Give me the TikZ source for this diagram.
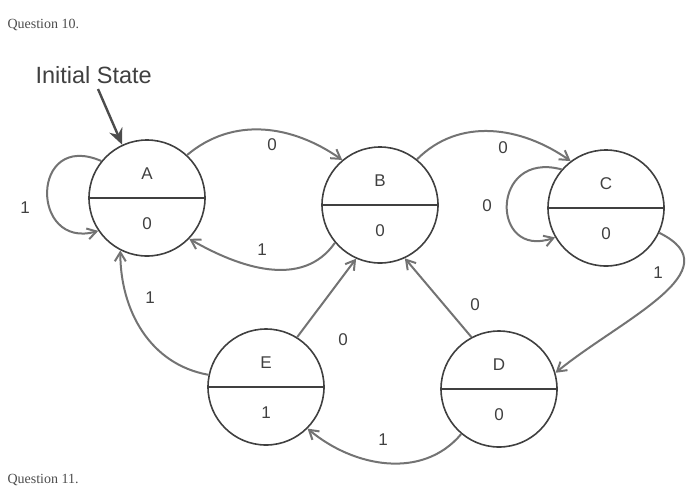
\documentclass[tikz,border=0pt]{standalone}
\usepackage{fontspec}
\setmainfont{Liberation Sans}
\newfontfamily\qfont{Liberation Serif}
\usetikzlibrary{arrows.meta}
\begin{document}
\begin{tikzpicture}[x=1pt,y=1pt,
  st/.style={circle,draw=black!75,line width=1.6pt,minimum size=116pt,inner sep=0pt},
  ed/.style={draw=black!55,line width=2pt,-{Straight Barb[length=9pt,width=11pt]}},
  lb/.style={font=\fontsize{17}{17}\selectfont,text=black!75},
  q/.style={font=\qfont\fontsize{14}{14}\selectfont,text=black!70,anchor=west}]
\useasboundingbox (0,0) rectangle (700,-493);
\foreach \n/\x/\y/\o in {A/147/198/0,B/380/205/0,C/606/208/0,E/266/387/1,D/499/389/0}{
  \node[st] (\n) at (\x,-\y) {};
  \draw[black!75,line width=1.6pt] (\n.west) -- (\n.east);
  \node[lb] (\n t) at (\x,-\y+24) {\n};
  \node[lb] (\n o) at (\x,-\y-26) {\o};
}
\node[q] (q10) at (4,-25) {Question 10.};
\node[q] (q11) at (4,-480) {Question 11.};
\node[lb,anchor=west,font=\fontsize{23.5}{23.5}\selectfont] (init) at (32,-75) {Initial State};
\draw[ed,black!70,line width=2.4pt,-{Stealth[length=16pt,width=14pt]}] (98,-89) -- (A.115);
\draw[ed] (A.47) to[out=40,in=145] (B.130);
\draw[ed] (B.220) to[out=-125,in=-30] (A.-44);
\draw[ed] (A.141) .. controls (30,-130) and (30,-250) .. (A.214);
\draw[ed] (B.51) to[out=45,in=145] (C.127);
\draw[ed] (C.139) .. controls (490,-150) and (490,-260) .. (C.210);
\draw[ed] (C.-25) .. controls (735,-270) and (620,-320) .. (D.16);
\draw[ed] (D.118) -- (B.-65);
\draw[ed] (E.58) -- (B.-114);
\draw[ed] (E.168) to[out=170,in=-90] (A.-117);
\draw[ed] (D.-130) to[out=-130,in=-40] (E.-45);
\node[lb] (l1) at (272,-145) {0};
\node[lb] (l2) at (262,-250) {1};
\node[lb] (l3) at (25,-208) {1};
\node[lb] (l4) at (503,-148) {0};
\node[lb] (l5) at (487,-206) {0};
\node[lb] (l6) at (658,-273) {1};
\node[lb] (l7) at (475,-305) {0};
\node[lb] (l8) at (343,-340) {0};
\node[lb] (l9) at (150,-298) {1};
\node[lb] (l10) at (383,-440) {1};
\end{tikzpicture}
\end{document}
